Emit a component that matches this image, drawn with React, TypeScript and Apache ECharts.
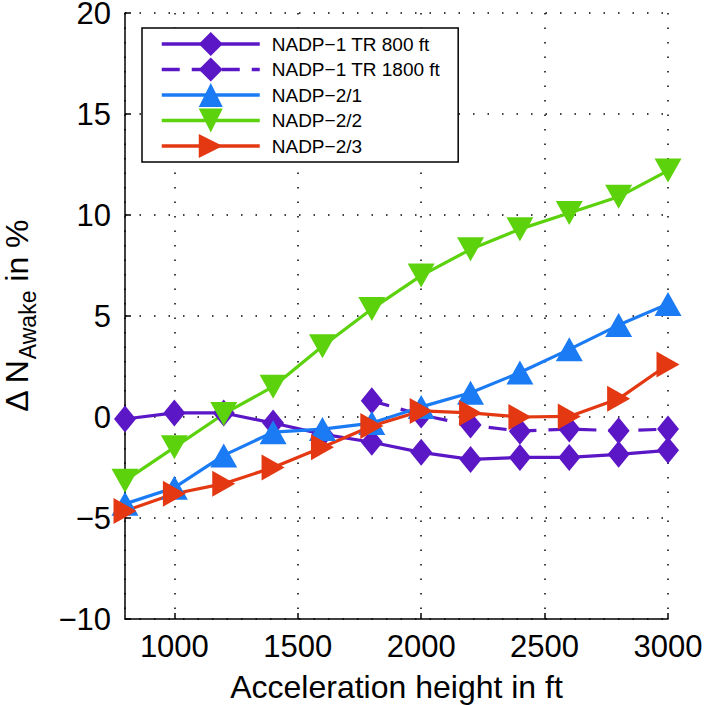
import React, { useEffect, useRef } from 'react';
import * as echarts from 'echarts';

// acceleration heights (ft)
const heights = [800, 1000, 1200, 1400, 1600, 1800, 2000, 2200, 2400, 2600, 2800, 3000];

// change in awake population, %
const nadp1Tr800 = [-0.1, 0.2, 0.2, -0.3, -0.85, -1.25, -1.75, -2.1, -2.0, -2.0, -1.85, -1.65];
const nadp1Tr1800 = [null, null, null, null, null, 0.8, 0.1, -0.4, -0.7, -0.6, -0.68, -0.6];
const nadp21 = [-4.3, -3.5, -1.9, -0.75, -0.6, -0.3, 0.5, 1.2, 2.2, 3.35, 4.55, 5.6];
const nadp22 = [-3.15, -1.5, 0.15, 1.5, 3.5, 5.35, 7.0, 8.3, 9.3, 10.1, 10.9, 12.2];
const nadp23 = [-4.65, -3.8, -3.3, -2.5, -1.5, -0.45, 0.3, 0.2, 0.0, 0.03, 0.9, 2.6];

const seriesNames = ['NADP\u22121 TR 800 ft', 'NADP\u22121 TR 1800 ft', 'NADP\u22122/1', 'NADP\u22122/2', 'NADP\u22122/3'];

const FONT = 'Liberation Sans, Arial, Helvetica, sans-serif';

const toPairs = (vals: (number | null)[]) =>
  heights.map((h, i) => [h, vals[i]]).filter((p) => p[1] !== null);

// MATLAB style: plain numbers with a real minus sign
const tickFmt = (v: number) => String(v).replace('-', '\u2212');

const App: React.FC = () => {
  const chartRef = useRef<HTMLDivElement>(null);

  useEffect(() => {
    if (!chartRef.current) return;
    const chart = echarts.init(chartRef.current, undefined, { renderer: 'svg' });

    const mkSeries = (
      name: string,
      data: (number | null)[],
      color: string,
      symbol: string,
      size: number | number[],
      rotate = 0,
      dashed = false
    ) => ({
      name,
      type: 'line',
      data: toPairs(data),
      symbol,
      symbolSize: size,
      symbolRotate: rotate,
      showAllSymbol: true,
      lineStyle: { color, width: 3.2, type: dashed ? [18, 12] : 'solid' },
      itemStyle: { color, borderWidth: 0 },
      z: 2
    });

    const gridDots = { color: '#000', width: 1.5, type: [1.5, 13] };

    chart.setOption({
      animation: false,
      textStyle: { fontFamily: FONT },
      grid: { left: 125, right: 36, top: 13, bottom: 86, outerBoundsMode: 'none' },
      legend: {
        orient: 'vertical',
        left: 142,
        top: 28,
        padding: [4, 18, 4, 18],
        itemGap: 1.5,
        itemWidth: 98,
        itemHeight: 30,
        backgroundColor: '#ffffff',
        borderColor: '#000000',
        borderWidth: 1.5,
        borderRadius: 0,
        lineStyle: { width: 3.5 },
        textStyle: { fontFamily: FONT, fontSize: 19, color: '#000', padding: [0, 0, 0, 7] },
        data: seriesNames
      },
      xAxis: {
        type: 'value',
        min: 800,
        max: 3000,
        name: 'Acceleration height in ft',
        nameLocation: 'middle',
        nameGap: 52,
        nameTextStyle: { fontFamily: FONT, fontSize: 32, color: '#000' },
        axisLine: { show: true, onZero: false, lineStyle: { color: '#000', width: 1.5 } },
        axisTick: { show: true, inside: true, length: 6, lineStyle: { color: '#000', width: 1.5 } },
        axisLabel: {
          showMinLabel: false,
          margin: 12,
          fontFamily: FONT,
          fontSize: 31,
          color: '#000',
          formatter: tickFmt
        },
        splitLine: { show: true, lineStyle: gridDots }
      },
      yAxis: {
        type: 'value',
        min: -10,
        max: 20,
        interval: 5,
        name: '{a|\u0394 N}{b|Awake}{a| in %}',
        nameLocation: 'middle',
        nameGap: 86,
        nameRotate: 90,
        nameTextStyle: {
          color: '#000',
          rich: {
            a: { fontFamily: FONT, fontSize: 32, color: '#000', lineHeight: 44, verticalAlign: 'middle' },
            b: { fontFamily: FONT, fontSize: 23, color: '#000', verticalAlign: 'bottom', lineHeight: 44 }
          }
        },
        axisLine: { show: true, onZero: false, lineStyle: { color: '#000', width: 1.5 } },
        axisTick: { show: true, inside: true, length: 6, lineStyle: { color: '#000', width: 1.5 } },
        axisLabel: {
          margin: 14,
          fontFamily: FONT,
          fontSize: 31,
          lineHeight: 26,
          color: '#000',
          formatter: tickFmt
        },
        splitLine: { show: true, lineStyle: gridDots }
      },
      series: [
        mkSeries(seriesNames[0], nadp1Tr800, '#5b16c6', 'diamond', [22, 27]),
        mkSeries(seriesNames[1], nadp1Tr1800, '#5b16c6', 'diamond', [22, 27], 0, true),
        mkSeries(seriesNames[2], nadp21, '#1a7bf4', 'triangle', [27, 24]),
        mkSeries(seriesNames[3], nadp22, '#5cd20c', 'triangle', [27, 24], 180),
        mkSeries(seriesNames[4], nadp23, '#e33812', 'triangle', [26, 23], -90)
      ]
    });

    return () => {
      chart.dispose();
    };
  }, []);

  return (
    <div
      ref={chartRef}
      style={{ position: 'fixed', left: 0, top: 0, width: 704, height: 705, background: '#fff' }}
    />
  );
};

export default App;
